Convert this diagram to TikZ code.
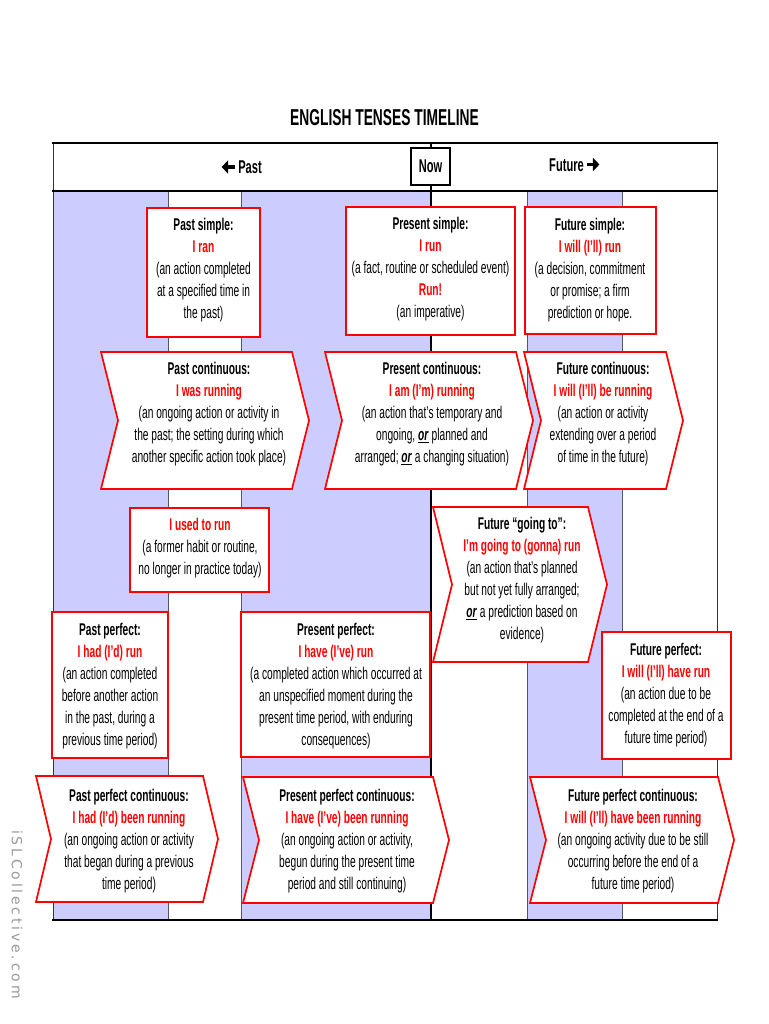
\documentclass[tikz,border=0pt]{standalone}
\usepackage{fontspec}
\usetikzlibrary{arrows.meta}
\setmainfont{Liberation Sans}[FakeStretch=0.6]
\newfontfamily\wmfont{DejaVu Sans}[LetterSpace=20]
\definecolor{lav}{HTML}{CCCCFF}
\definecolor{tred}{HTML}{FF0000}
\definecolor{divgray}{HTML}{55556A}
\definecolor{wmgray}{HTML}{9A9A9A}
\newcommand\hd[1]{\textbf{#1}}
\newcommand\rd[1]{\textcolor{tred}{\textbf{#1}}}
\newcommand\uor{\underline{\textbf{\textit{or}}}}
\newcommand\chev[6]{% left, topright x, top, bottom, depth, name
  \draw[redbox] (#1,#3) -- (#2,#3) -- (#2+#5,{(#3+#4)/2}) -- (#2,#4) -- (#1,#4) -- (#1+#5,{(#3+#4)/2}) -- cycle;}
\tikzset{
  redbox/.style={draw=tred, line width=1.7pt, fill=white, line join=miter},
  txt/.style={align=center, inner sep=0pt, text=black, font=\fontsize{17}{22}\selectfont},
  hdr/.style={inner sep=0pt, font=\fontsize{18.5}{22}\selectfont\bfseries},
  hdarrow/.style={draw=black, line width=3.6pt, -{Triangle[length=6.5pt,width=13pt]}},
  divider/.style={draw=divgray, line width=0.8pt},
  framethick/.style={draw=black, line width=2pt},
  framethin/.style={draw=black!80, line width=1pt},
  centerline/.style={draw=black, line width=2.6pt},
  nowbox/.style={draw=black, line width=1.2pt, fill=white, minimum width=39pt, minimum height=37pt, inner sep=0pt, font=\fontsize{18.5}{22}\selectfont\bfseries},
  wm/.style={inner sep=0pt, text=wmgray, font=\wmfont\fontsize{14}{14}\selectfont},
}
\begin{document}
\begin{tikzpicture}[x=1pt,y=-1pt]
\useasboundingbox (0,0) rectangle (768,1024);
\fill[white] (0,0) rectangle (768,1024);

% title
\node[inner sep=0pt, font=\fontsize{23}{26}\selectfont\bfseries] (title) at (384.5,118) {ENGLISH TENSES TIMELINE};

% background columns
\fill[lav] (53,191) rectangle (168,920);
\fill[lav] (241,191) rectangle (431,920);
\fill[lav] (527,191) rectangle (622,920);
\foreach \xx in {168,241,527,622} \draw[divider] (\xx,191) -- (\xx,920);

% frame
\draw[framethin] (53,143) -- (53,920);
\draw[framethin] (717,143) -- (717,920);
\draw[framethick] (52,143) -- (718,143);
\draw[framethick] (52,191) -- (718,191);
\draw[framethick] (52,920) -- (718,920);
\draw[centerline] (431,142) -- (431,921);

% header
\node[nowbox] (now) at (430.5,166.5) {Now};
\node[hdr] (past) at (250,167) {Past};
\node[hdr] (future) at (566.5,165) {Future};
\draw[hdarrow] ([xshift=-3.5pt]past.west) -- ++(-13,0);
\draw[hdarrow] ([xshift=3.5pt,yshift=0.5pt]future.east) -- ++(12,0);

% rectangles
\draw[redbox] (147,208) rectangle (260,337);
\draw[redbox] (346,207) rectangle (515,335);
\draw[redbox] (525,207) rectangle (656,334);
\draw[redbox] (130,508) rectangle (269,592);
\draw[redbox] (52,612) rectangle (168,758);
\draw[redbox] (241,612) rectangle (430,757);
\draw[redbox] (602,632) rectangle (731,759);

% chevrons
\chev{101}{292}{352}{489}{17}{pc}
\chev{325}{516}{352}{489}{17}{prc}
\chev{524}{666}{352}{489}{17}{fc}
\chev{433}{588}{507}{662}{19}{fg}
\chev{36}{203}{776}{902}{15}{ppc}
\chev{243}{433}{777}{903}{16}{prpc}
\chev{530}{718}{777}{903}{16}{fpc}

% texts
\node[txt] (tps) at (203.5,270) {\hd{Past simple:}\\ \rd{I ran}\\ (an action completed\\ at a specified time in\\ the past)};
\node[txt] (tprs) at (430.5,269.5) {\hd{Present simple:}\\ \rd{I run}\\ (a fact, routine or scheduled event)\\ \rd{Run!}\\ (an imperative)};
\node[txt] (tfs) at (590,270) {\hd{Future simple:}\\ \rd{I will (I’ll) run}\\ (a decision, commitment\\ or promise; a firm\\ prediction or hope.};

\node[txt] (tpc) at (209,414.5) {\hd{Past continuous:}\\ \rd{I was running}\\ (an ongoing action or activity in\\ the past; the setting during which\\ another specific action took place)};
\node[txt] (tprc) at (432,414.5) {\hd{Present continuous:}\\ \rd{I am (I’m) running}\\ (an action that’s temporary and\\ ongoing, \uor{} planned and\\ arranged; \uor{} a changing situation)};
\node[txt] (tfc) at (603,414.5) {\hd{Future continuous:}\\ \rd{I will (I’ll) be running}\\ (an action or activity\\ extending over a period\\ of time in the future)};

\node[txt] (tut) at (200,548.5) {\rd{I used to run}\\ (a former habit or routine,\\ no longer in practice today)};
\node[txt] (tfg) at (522,580) {\hd{Future “going to”:}\\ \rd{I’m going to (gonna) run}\\ (an action that’s planned\\ but not yet fully arranged;\\ \uor{} a prediction based on\\ evidence)};

\node[txt] (tpp) at (110,686) {\hd{Past perfect:}\\ \rd{I had (I’d) run}\\ (an action completed\\ before another action\\ in the past, during a\\ previous time period)};
\node[txt] (tprp) at (336,686) {\hd{Present perfect:}\\ \rd{I have (I’ve) run}\\ (a completed action which occurred at\\ an unspecified moment during the\\ present time period, with enduring\\ consequences)};
\node[txt] (tfp) at (666,695) {\hd{Future perfect:}\\ \rd{I will (I’ll) have run}\\ (an action due to be\\ completed at the end of a\\ future time period)};

\node[txt] (tppc) at (129,841) {\hd{Past perfect continuous:}\\ \rd{I had (I’d) been running}\\ (an ongoing action or activity\\ that began during a previous\\ time period)};
\node[txt] (tprpc) at (347,841) {\hd{Present perfect continuous:}\\ \rd{I have (I’ve) been running}\\ (an ongoing action or activity,\\ begun during the present time\\ period and still continuing)};
\node[txt] (tfpc) at (633,841) {\hd{Future perfect continuous:}\\ \rd{I will (I’ll) have been running}\\ (an ongoing activity due to be still\\ occurring before the end of a\\ future time period)};

% watermark
\node[wm, rotate=-90] (wmark) at (17,914.5) {iSLCollective.com};
\end{tikzpicture}
\end{document}
